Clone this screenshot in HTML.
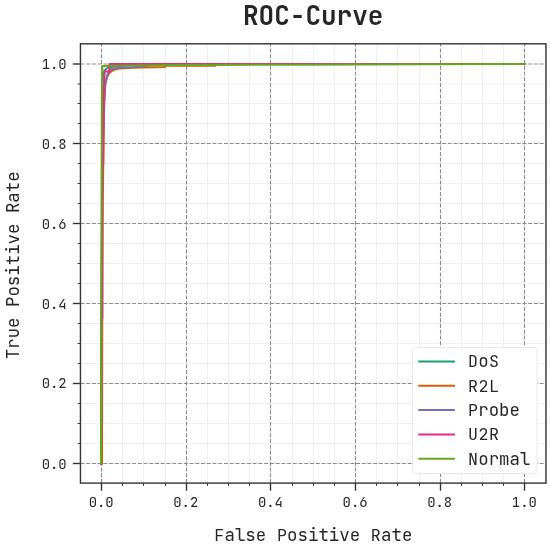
<!DOCTYPE html>
<html><head><meta charset="utf-8"><title>ROC-Curve</title>
<style>
html,body{margin:0;padding:0;background:#fff;}
body{width:550px;height:547px;overflow:hidden;}
svg{display:block;}
svg text{font-family:'JetBrains Mono','DejaVu Sans Mono','Liberation Mono',monospace;fill:#262626;font-weight:450;}
</style></head>
<body>
<svg width="550" height="547" viewBox="0 0 550 547">
<rect width="550" height="547" fill="#ffffff"/>
<line x1="122.5" y1="43.8" x2="122.5" y2="483.1" stroke="#ebebeb" stroke-width="0.8"/>
<line x1="80.44" y1="443.5" x2="545.96" y2="443.5" stroke="#ebebeb" stroke-width="0.8"/>
<line x1="143.5" y1="43.8" x2="143.5" y2="483.1" stroke="#ebebeb" stroke-width="0.8"/>
<line x1="80.44" y1="423.5" x2="545.96" y2="423.5" stroke="#ebebeb" stroke-width="0.8"/>
<line x1="165.5" y1="43.8" x2="165.5" y2="483.1" stroke="#ebebeb" stroke-width="0.8"/>
<line x1="80.44" y1="403.5" x2="545.96" y2="403.5" stroke="#ebebeb" stroke-width="0.8"/>
<line x1="207.5" y1="43.8" x2="207.5" y2="483.1" stroke="#ebebeb" stroke-width="0.8"/>
<line x1="80.44" y1="363.5" x2="545.96" y2="363.5" stroke="#ebebeb" stroke-width="0.8"/>
<line x1="228.5" y1="43.8" x2="228.5" y2="483.1" stroke="#ebebeb" stroke-width="0.8"/>
<line x1="80.44" y1="343.5" x2="545.96" y2="343.5" stroke="#ebebeb" stroke-width="0.8"/>
<line x1="249.5" y1="43.8" x2="249.5" y2="483.1" stroke="#ebebeb" stroke-width="0.8"/>
<line x1="80.44" y1="323.5" x2="545.96" y2="323.5" stroke="#ebebeb" stroke-width="0.8"/>
<line x1="292.5" y1="43.8" x2="292.5" y2="483.1" stroke="#ebebeb" stroke-width="0.8"/>
<line x1="80.44" y1="283.5" x2="545.96" y2="283.5" stroke="#ebebeb" stroke-width="0.8"/>
<line x1="313.5" y1="43.8" x2="313.5" y2="483.1" stroke="#ebebeb" stroke-width="0.8"/>
<line x1="80.44" y1="263.5" x2="545.96" y2="263.5" stroke="#ebebeb" stroke-width="0.8"/>
<line x1="334.5" y1="43.8" x2="334.5" y2="483.1" stroke="#ebebeb" stroke-width="0.8"/>
<line x1="80.44" y1="243.5" x2="545.96" y2="243.5" stroke="#ebebeb" stroke-width="0.8"/>
<line x1="376.5" y1="43.8" x2="376.5" y2="483.1" stroke="#ebebeb" stroke-width="0.8"/>
<line x1="80.44" y1="203.5" x2="545.96" y2="203.5" stroke="#ebebeb" stroke-width="0.8"/>
<line x1="397.5" y1="43.8" x2="397.5" y2="483.1" stroke="#ebebeb" stroke-width="0.8"/>
<line x1="80.44" y1="183.5" x2="545.96" y2="183.5" stroke="#ebebeb" stroke-width="0.8"/>
<line x1="419.5" y1="43.8" x2="419.5" y2="483.1" stroke="#ebebeb" stroke-width="0.8"/>
<line x1="80.44" y1="163.5" x2="545.96" y2="163.5" stroke="#ebebeb" stroke-width="0.8"/>
<line x1="461.5" y1="43.8" x2="461.5" y2="483.1" stroke="#ebebeb" stroke-width="0.8"/>
<line x1="80.44" y1="123.5" x2="545.96" y2="123.5" stroke="#ebebeb" stroke-width="0.8"/>
<line x1="482.5" y1="43.8" x2="482.5" y2="483.1" stroke="#ebebeb" stroke-width="0.8"/>
<line x1="80.44" y1="103.5" x2="545.96" y2="103.5" stroke="#ebebeb" stroke-width="0.8"/>
<line x1="503.5" y1="43.8" x2="503.5" y2="483.1" stroke="#ebebeb" stroke-width="0.8"/>
<line x1="80.44" y1="83.97" x2="545.96" y2="83.97" stroke="#ebebeb" stroke-width="0.8"/>
<line x1="101.5" y1="483.1" x2="101.5" y2="43.8" stroke="#8a8a8a" stroke-width="1.1" stroke-dasharray="4.01 1.73"/>
<line x1="80.44" y1="463.5" x2="545.96" y2="463.5" stroke="#8a8a8a" stroke-width="1.1" stroke-dasharray="4.01 1.73"/>
<line x1="186.5" y1="483.1" x2="186.5" y2="43.8" stroke="#8a8a8a" stroke-width="1.1" stroke-dasharray="4.01 1.73"/>
<line x1="80.44" y1="383.5" x2="545.96" y2="383.5" stroke="#8a8a8a" stroke-width="1.1" stroke-dasharray="4.01 1.73"/>
<line x1="270.5" y1="483.1" x2="270.5" y2="43.8" stroke="#8a8a8a" stroke-width="1.1" stroke-dasharray="4.01 1.73"/>
<line x1="80.44" y1="303.5" x2="545.96" y2="303.5" stroke="#8a8a8a" stroke-width="1.1" stroke-dasharray="4.01 1.73"/>
<line x1="355.5" y1="483.1" x2="355.5" y2="43.8" stroke="#8a8a8a" stroke-width="1.1" stroke-dasharray="4.01 1.73"/>
<line x1="80.44" y1="223.5" x2="545.96" y2="223.5" stroke="#8a8a8a" stroke-width="1.1" stroke-dasharray="4.01 1.73"/>
<line x1="440.5" y1="483.1" x2="440.5" y2="43.8" stroke="#8a8a8a" stroke-width="1.1" stroke-dasharray="4.01 1.73"/>
<line x1="80.44" y1="143.5" x2="545.96" y2="143.5" stroke="#8a8a8a" stroke-width="1.1" stroke-dasharray="4.01 1.73"/>
<line x1="524.5" y1="483.1" x2="524.5" y2="43.8" stroke="#8a8a8a" stroke-width="1.1" stroke-dasharray="4.01 1.73"/>
<line x1="80.44" y1="64" x2="545.96" y2="64" stroke="#8a8a8a" stroke-width="1.1" stroke-dasharray="4.01 1.73"/>
<path d="M101.3 463.5 L102 150 L102.8 80 L104.5 70.5 L107.5 68 L115 66.3 L140 64.6 L160 64 L524.8 64" fill="none" stroke="#1b9e77" stroke-width="2.0" stroke-linejoin="round" stroke-linecap="square"/>
<path d="M102 463.5 L102.3 300 L102.8 200 L104 110 L105.3 84 L107.3 76.5 L109.5 73 L111.7 71 L116.1 69 L120 68.4 L133 67.7 L165 67.1 L165 65.8 L215.5 65.7 L215.5 64 L524.8 64" fill="none" stroke="#d95f02" stroke-width="2.0" stroke-linejoin="round" stroke-linecap="square"/>
<path d="M101 463.5 L101.5 300 L102.5 150 L104.5 90 L106 80 L107.5 74 L110 70 L113 68.6 L120 67.8 L133 67.2 L145 66 L160 64 L524.8 64" fill="none" stroke="#7570b3" stroke-width="2.0" stroke-linejoin="round" stroke-linecap="square"/>
<path d="M101 463.9 L101.3 318.4 L102.3 318.4 L102.3 164 L103.2 164 L103.67 100 L104.6 71.5 L109.4 71.5 L109.4 64 L524.8 64" fill="none" stroke="#e7298a" stroke-width="2.0" stroke-linejoin="round" stroke-linecap="square"/>
<path d="M101 463 L101.85 100 L102.4 66 L135 65.4 L165 65.1 L210 64.9 L300 64.65 L420 64.3 L524.8 63.95" fill="none" stroke="#66a61e" stroke-width="2.0" stroke-linejoin="round" stroke-linecap="square"/>
<rect x="80.44" y="43.8" width="465.52" height="439.3" fill="none" stroke="#333333" stroke-width="1.4" stroke-linejoin="miter"/>
<line x1="101.5" y1="483.1" x2="101.5" y2="490.7" stroke="#333333" stroke-width="1.4"/>
<line x1="80.44" y1="463.5" x2="72.84" y2="463.5" stroke="#333333" stroke-width="1.4"/>
<line x1="186.5" y1="483.1" x2="186.5" y2="490.7" stroke="#333333" stroke-width="1.4"/>
<line x1="80.44" y1="383.5" x2="72.84" y2="383.5" stroke="#333333" stroke-width="1.4"/>
<line x1="270.5" y1="483.1" x2="270.5" y2="490.7" stroke="#333333" stroke-width="1.4"/>
<line x1="80.44" y1="303.5" x2="72.84" y2="303.5" stroke="#333333" stroke-width="1.4"/>
<line x1="355.5" y1="483.1" x2="355.5" y2="490.7" stroke="#333333" stroke-width="1.4"/>
<line x1="80.44" y1="223.5" x2="72.84" y2="223.5" stroke="#333333" stroke-width="1.4"/>
<line x1="440.5" y1="483.1" x2="440.5" y2="490.7" stroke="#333333" stroke-width="1.4"/>
<line x1="80.44" y1="143.5" x2="72.84" y2="143.5" stroke="#333333" stroke-width="1.4"/>
<line x1="524.5" y1="483.1" x2="524.5" y2="490.7" stroke="#333333" stroke-width="1.4"/>
<line x1="80.44" y1="64" x2="72.84" y2="64" stroke="#333333" stroke-width="1.4"/>
<line x1="122.5" y1="483.1" x2="122.5" y2="485.9" stroke="#333333" stroke-width="1.0"/>
<line x1="80.44" y1="443.5" x2="77.64" y2="443.5" stroke="#333333" stroke-width="1.0"/>
<line x1="143.5" y1="483.1" x2="143.5" y2="485.9" stroke="#333333" stroke-width="1.0"/>
<line x1="80.44" y1="423.5" x2="77.64" y2="423.5" stroke="#333333" stroke-width="1.0"/>
<line x1="165.5" y1="483.1" x2="165.5" y2="485.9" stroke="#333333" stroke-width="1.0"/>
<line x1="80.44" y1="403.5" x2="77.64" y2="403.5" stroke="#333333" stroke-width="1.0"/>
<line x1="207.5" y1="483.1" x2="207.5" y2="485.9" stroke="#333333" stroke-width="1.0"/>
<line x1="80.44" y1="363.5" x2="77.64" y2="363.5" stroke="#333333" stroke-width="1.0"/>
<line x1="228.5" y1="483.1" x2="228.5" y2="485.9" stroke="#333333" stroke-width="1.0"/>
<line x1="80.44" y1="343.5" x2="77.64" y2="343.5" stroke="#333333" stroke-width="1.0"/>
<line x1="249.5" y1="483.1" x2="249.5" y2="485.9" stroke="#333333" stroke-width="1.0"/>
<line x1="80.44" y1="323.5" x2="77.64" y2="323.5" stroke="#333333" stroke-width="1.0"/>
<line x1="292.5" y1="483.1" x2="292.5" y2="485.9" stroke="#333333" stroke-width="1.0"/>
<line x1="80.44" y1="283.5" x2="77.64" y2="283.5" stroke="#333333" stroke-width="1.0"/>
<line x1="313.5" y1="483.1" x2="313.5" y2="485.9" stroke="#333333" stroke-width="1.0"/>
<line x1="80.44" y1="263.5" x2="77.64" y2="263.5" stroke="#333333" stroke-width="1.0"/>
<line x1="334.5" y1="483.1" x2="334.5" y2="485.9" stroke="#333333" stroke-width="1.0"/>
<line x1="80.44" y1="243.5" x2="77.64" y2="243.5" stroke="#333333" stroke-width="1.0"/>
<line x1="376.5" y1="483.1" x2="376.5" y2="485.9" stroke="#333333" stroke-width="1.0"/>
<line x1="80.44" y1="203.5" x2="77.64" y2="203.5" stroke="#333333" stroke-width="1.0"/>
<line x1="397.5" y1="483.1" x2="397.5" y2="485.9" stroke="#333333" stroke-width="1.0"/>
<line x1="80.44" y1="183.5" x2="77.64" y2="183.5" stroke="#333333" stroke-width="1.0"/>
<line x1="419.5" y1="483.1" x2="419.5" y2="485.9" stroke="#333333" stroke-width="1.0"/>
<line x1="80.44" y1="163.5" x2="77.64" y2="163.5" stroke="#333333" stroke-width="1.0"/>
<line x1="461.5" y1="483.1" x2="461.5" y2="485.9" stroke="#333333" stroke-width="1.0"/>
<line x1="80.44" y1="123.5" x2="77.64" y2="123.5" stroke="#333333" stroke-width="1.0"/>
<line x1="482.5" y1="483.1" x2="482.5" y2="485.9" stroke="#333333" stroke-width="1.0"/>
<line x1="80.44" y1="103.5" x2="77.64" y2="103.5" stroke="#333333" stroke-width="1.0"/>
<line x1="503.5" y1="483.1" x2="503.5" y2="485.9" stroke="#333333" stroke-width="1.0"/>
<line x1="80.44" y1="83.97" x2="77.64" y2="83.97" stroke="#333333" stroke-width="1.0"/>
<text x="101.15" y="507" font-size="13.9" text-anchor="middle">0.0</text>
<text x="66.7" y="469" font-size="13.9" text-anchor="end">0.0</text>
<text x="185.79" y="507" font-size="13.9" text-anchor="middle">0.2</text>
<text x="66.7" y="388" font-size="13.9" text-anchor="end">0.2</text>
<text x="270.43" y="507" font-size="13.9" text-anchor="middle">0.4</text>
<text x="66.7" y="309" font-size="13.9" text-anchor="end">0.4</text>
<text x="355.07" y="507" font-size="13.9" text-anchor="middle">0.6</text>
<text x="66.7" y="229" font-size="13.9" text-anchor="end">0.6</text>
<text x="439.71" y="507" font-size="13.9" text-anchor="middle">0.8</text>
<text x="66.7" y="149" font-size="13.9" text-anchor="end">0.8</text>
<text x="524.35" y="507" font-size="13.9" text-anchor="middle">1.0</text>
<text x="66.7" y="69" font-size="13.9" text-anchor="end">1.0</text>
<text y="541" font-size="17.4"><tspan x="214.26" font-size="16.6">F</tspan><tspan x="224.46">alse </tspan><tspan x="276.9" font-size="16.6">P</tspan><tspan x="287.1">ositive </tspan><tspan x="370.86" font-size="16.6">R</tspan><tspan x="381.06">ate</tspan></text>
<g transform="translate(18.9 265.3) rotate(-90)"><text x="0" y="0" font-size="17.4" text-anchor="middle">True Positive Rate</text></g>
<text x="313.2" y="25" font-size="26" style="font-weight:700" text-anchor="middle">ROC-Curve</text>
<rect x="412.5" y="347.6" width="124.5" height="125.9" rx="2.8" ry="2.8" fill="#ffffff" fill-opacity="1" stroke="#e8e8e8" stroke-width="1"/>
<line x1="419.3" y1="361.4" x2="453.9" y2="361.4" stroke="#1b9e77" stroke-width="2.0" stroke-linecap="square"/>
<text y="367" font-size="17.4"><tspan x="468.04" font-size="16.6">D</tspan><tspan x="478.24">o</tspan><tspan x="488.92" font-size="16.6">S</tspan></text>
<line x1="419.3" y1="385.75" x2="453.9" y2="385.75" stroke="#d95f02" stroke-width="2.0" stroke-linecap="square"/>
<text y="392" font-size="17.4"><tspan x="468.04" font-size="16.6">R</tspan><tspan x="478.48" font-size="16.6">2</tspan><tspan x="488.92" font-size="16.6">L</tspan></text>
<line x1="419.3" y1="410.1" x2="453.9" y2="410.1" stroke="#7570b3" stroke-width="2.0" stroke-linecap="square"/>
<text y="416" font-size="17.4"><tspan x="468.04" font-size="16.6">P</tspan><tspan x="478.24">robe</tspan></text>
<line x1="419.3" y1="434.45" x2="453.9" y2="434.45" stroke="#e7298a" stroke-width="2.0" stroke-linecap="square"/>
<text y="440" font-size="17.4"><tspan x="468.04" font-size="16.6">U</tspan><tspan x="478.48" font-size="16.6">2</tspan><tspan x="488.92" font-size="16.6">R</tspan></text>
<line x1="419.3" y1="458.8" x2="453.9" y2="458.8" stroke="#66a61e" stroke-width="2.0" stroke-linecap="square"/>
<text y="465" font-size="17.4"><tspan x="468.04" font-size="16.6">N</tspan><tspan x="478.24">ormal</tspan></text>
</svg>
</body></html>
